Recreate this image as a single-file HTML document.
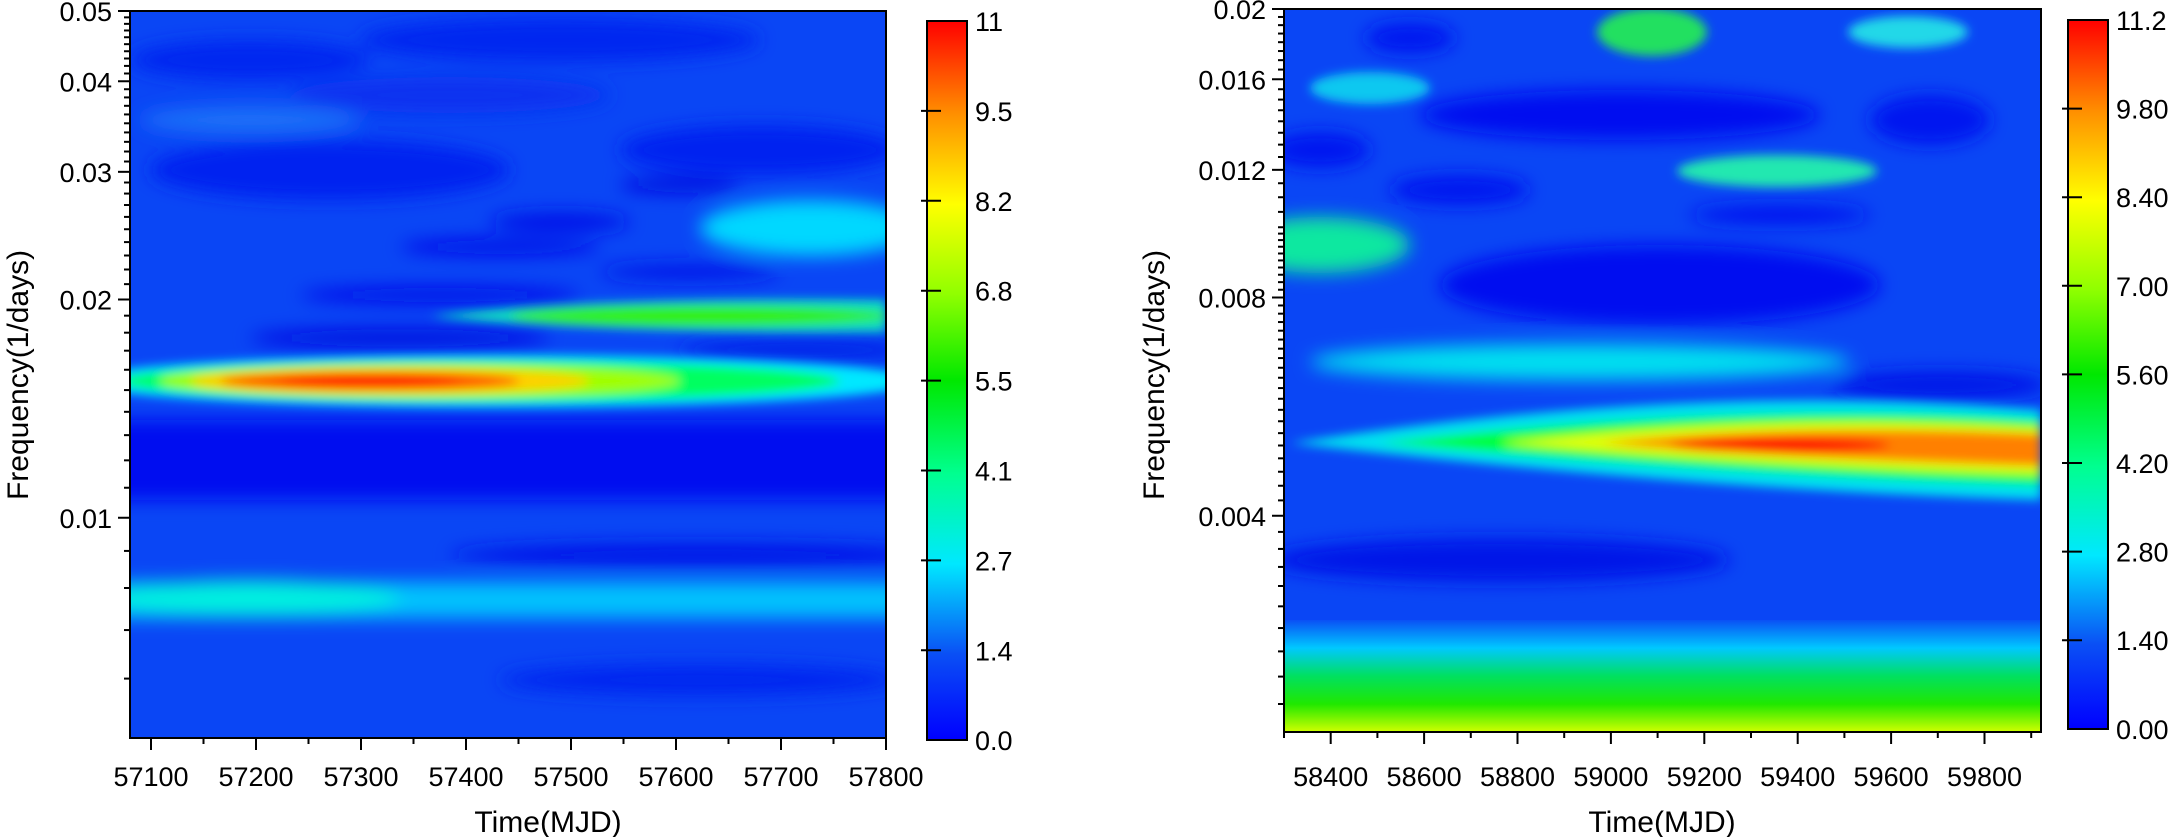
<!DOCTYPE html>
<html><head><meta charset="utf-8"><style>
html,body{margin:0;padding:0;background:#fff;}
svg{display:block;}
text{font-family:"Liberation Sans Narrow","Liberation Sans","WenQuanYi Zen Hei",sans-serif;fill:#000;}
</style></head><body>
<svg id="s" width="2170" height="837" xmlns="http://www.w3.org/2000/svg">
<defs>
<filter id="b1" x="-50%" y="-50%" width="200%" height="200%"><feGaussianBlur stdDeviation="9"/></filter>
<filter id="b2" x="-50%" y="-50%" width="200%" height="200%"><feGaussianBlur stdDeviation="5"/></filter>
<clipPath id="cl"><rect x="130" y="11" width="756" height="727"/></clipPath>
<clipPath id="cr"><rect x="1284" y="9" width="757" height="723"/></clipPath>
<linearGradient id="jet" x1="0" y1="1" x2="0" y2="0">
<stop offset="0" stop-color="#0000ff"/><stop offset="0.12" stop-color="#0a50f5"/>
<stop offset="0.245" stop-color="#00e8ff"/><stop offset="0.37" stop-color="#00ff90"/>
<stop offset="0.5" stop-color="#00e800"/><stop offset="0.62" stop-color="#90ff00"/>
<stop offset="0.745" stop-color="#ffff00"/><stop offset="0.87" stop-color="#ff9000"/>
<stop offset="1" stop-color="#ff0000"/></linearGradient>
<linearGradient id="bot" x1="0" y1="0" x2="0" y2="1">
<stop offset="0" stop-color="#0a50f5"/><stop offset="0.25" stop-color="#00c8ff"/><stop offset="0.5" stop-color="#00e060"/><stop offset="0.75" stop-color="#20e800"/><stop offset="1" stop-color="#d0ff00"/></linearGradient>
</defs>

<g clip-path="url(#cl)">
<rect x="130" y="11" width="756" height="727" fill="#0a46f5"/>
<g filter="url(#b1)">
<ellipse cx="560" cy="40" rx="200" ry="22" fill="#0028f0"/>
<ellipse cx="250" cy="60" rx="120" ry="20" fill="#0028f0"/>
<ellipse cx="450" cy="95" rx="160" ry="18" fill="#0a30f0"/>
<ellipse cx="250" cy="120" rx="110" ry="14" fill="#1a70f8"/>
<ellipse cx="760" cy="150" rx="140" ry="25" fill="#0020f0"/>
<ellipse cx="330" cy="170" rx="180" ry="30" fill="#0020f0"/>
<ellipse cx="680" cy="185" rx="60" ry="8" fill="#0010e0"/>
<ellipse cx="560" cy="222" rx="70" ry="10" fill="#0018e8"/>
<ellipse cx="500" cy="247" rx="100" ry="8" fill="#0010e8"/>
<ellipse cx="690" cy="272" rx="90" ry="8" fill="#0018e8"/>
<ellipse cx="810" cy="228" rx="110" ry="28" fill="#00d8ff"/>
<ellipse cx="440" cy="295" rx="140" ry="8" fill="#0010e8"/>
<ellipse cx="400" cy="338" rx="150" ry="9" fill="#0010e0"/>
<ellipse cx="800" cy="350" rx="120" ry="10" fill="#0020e8"/>
<rect x="100" y="420" width="816" height="80" fill="#0008f0"/>
<ellipse cx="700" cy="555" rx="250" ry="12" fill="#0018e8"/>
<rect x="100" y="582" width="816" height="36" fill="#00d8ff" opacity="0.85"/>
<ellipse cx="250" cy="598" rx="150" ry="18" fill="#00f0e0"/>
<ellipse cx="700" cy="680" rx="200" ry="16" fill="#0028f0"/>
</g>
<g filter="url(#b2)">
<path d="M430 316 Q600 296 886 300 L886 332 Q600 334 430 316 Z" fill="#10e0c0"/>
<ellipse cx="700" cy="316" rx="190" ry="10" fill="#30f000"/>
<ellipse cx="500" cy="381" rx="420" ry="26" fill="#00e8ff"/>
<ellipse cx="480" cy="381" rx="360" ry="20" fill="#00ff60"/>
<ellipse cx="420" cy="381" rx="260" ry="17" fill="#a0ff00"/>
<ellipse cx="390" cy="381" rx="200" ry="13" fill="#ffd000"/>
<ellipse cx="370" cy="381" rx="150" ry="9" fill="#ff5000"/>
<ellipse cx="370" cy="381" rx="90" ry="5" fill="#ff1000"/>
</g>
</g>
<rect x="130" y="11" width="756" height="727" fill="none" stroke="#000" stroke-width="2"/>

<g clip-path="url(#cr)">
<rect x="1284" y="9" width="757" height="723" fill="#0a46f5"/>
<rect x="1284" y="620" width="757" height="112" fill="url(#bot)"/>
<g filter="url(#b1)">
<ellipse cx="1620" cy="115" rx="200" ry="25" fill="#0010f0"/>
<ellipse cx="1930" cy="120" rx="60" ry="25" fill="#0018f0"/>
<ellipse cx="1320" cy="150" rx="50" ry="18" fill="#0018f0"/>
<ellipse cx="1460" cy="190" rx="70" ry="15" fill="#0018f0"/>
<ellipse cx="1660" cy="285" rx="220" ry="40" fill="#0010f0"/>
<ellipse cx="1320" cy="245" rx="90" ry="28" fill="#10e8a0"/>
<ellipse cx="1580" cy="362" rx="270" ry="18" fill="#00e0f0"/>
<ellipse cx="1940" cy="385" rx="110" ry="14" fill="#0018e8"/>
<ellipse cx="1500" cy="560" rx="230" ry="22" fill="#0018e8"/>
<ellipse cx="1410" cy="38" rx="45" ry="15" fill="#0018f0"/>
<ellipse cx="1780" cy="215" rx="90" ry="10" fill="#0018f0"/>
</g>
<g filter="url(#b2)">
<ellipse cx="1652" cy="32" rx="55" ry="24" fill="#20e060"/>
<ellipse cx="1908" cy="32" rx="60" ry="16" fill="#20d8e8"/>
<ellipse cx="1370" cy="88" rx="60" ry="16" fill="#10c8f0"/>
<ellipse cx="1777" cy="171" rx="100" ry="16" fill="#20e8b0"/>
<path d="M1290 443 Q1700 380 2041 410 L2041 500 Q1700 490 1290 443 Z" fill="#00e0f0"/>
<path d="M1380 443 Q1750 400 2041 420 L2041 485 Q1750 475 1380 443 Z" fill="#00ff40"/>
<path d="M1500 443 Q1780 412 2041 428 L2041 474 Q1780 467 1500 443 Z" fill="#e0ff00"/>
<path d="M1600 443 Q1800 423 2041 434 L2041 466 Q1800 459 1600 443 Z" fill="#ff8000"/>
<ellipse cx="1780" cy="445" rx="110" ry="8" fill="#ff1800"/>
</g>
</g>
<rect x="1284" y="9" width="757" height="723" fill="none" stroke="#000" stroke-width="2"/>

<rect x="927" y="21" width="40" height="719" fill="url(#jet)" stroke="#000" stroke-width="2"/>
<rect x="2068" y="20" width="40" height="709" fill="url(#jet)" stroke="#000" stroke-width="2"/>

<g id="g"></g>

<text x="0" y="0" font-size="30" text-anchor="middle" transform="translate(28,375) rotate(-90)">Frequency(1/days)</text>
<text x="0" y="0" font-size="30" text-anchor="middle" transform="translate(1164,375) rotate(-90)">Frequency(1/days)</text>
<text x="548" y="832" font-size="30" text-anchor="middle">Time(MJD)</text>
<text x="1662" y="832" font-size="30" text-anchor="middle">Time(MJD)</text>
</svg>
<script>
var g=document.getElementById('g'),o='';
function L(x1,y1,x2,y2){o+='<line x1="'+x1+'" y1="'+y1+'" x2="'+x2+'" y2="'+y2+'" stroke="#000" stroke-width="2"/>';}
function T(x,y,t,a){o+='<text x="'+x+'" y="'+y+'" font-size="27" text-anchor="'+a+'">'+t+'</text>';}
function yl(v){return 11+725*Math.log10(0.05/v);}
for(var k=6;k<=50;k++){var v=k/1000;var y=yl(v);var maj=[10,20,30,40,50].indexOf(k)>=0;L(130,y,maj?118:124,y);}
[[0.05,'0.05'],[0.04,'0.04'],[0.03,'0.03'],[0.02,'0.02'],[0.01,'0.01']].forEach(function(a){T(112,yl(a[0])+10,a[1],'end');});
function xl(m){return 130+(m-57080)*1.05;}
for(var m=57100;m<=57800;m+=50){var x=xl(m);L(x,738,x,m%100?744:750);}
for(var m=57100;m<=57800;m+=100)T(xl(m),786,m,'middle');
function yr(v){return 9+725*Math.log10(0.02/v);}
for(var k=22;k<=200;k+=(k<100?2:5)){var v=k/10000;var y=yr(v);var maj=[40,80,120,160,200].indexOf(k)>=0;L(1284,y,maj?1272:1278,y);}
[[0.02,'0.02'],[0.016,'0.016'],[0.012,'0.012'],[0.008,'0.008'],[0.004,'0.004']].forEach(function(a){T(1266,yr(a[0])+10,a[1],'end');});
function xr(m){return 1284+(m-58300)*0.467;}
for(var m=58300;m<=59900;m+=100){var x=xr(m);L(x,732,x,m%200?738:744);}
for(var m=58400;m<=59800;m+=200)T(xr(m),786,m,'middle');
['11','9.5','8.2','6.8','5.5','4.1','2.7','1.4','0.0'].forEach(function(t,i){var y=21+i*89.9;if(i>0&&i<8)L(921,y,941,y);T(975,y+10,t,'start');});
['11.2','9.80','8.40','7.00','5.60','4.20','2.80','1.40','0.00'].forEach(function(t,i){var y=20+i*88.6;if(i>0&&i<8)L(2062,y,2082,y);T(2116,y+10,t,'start');});
g.innerHTML=o;
</script>
</body></html>
